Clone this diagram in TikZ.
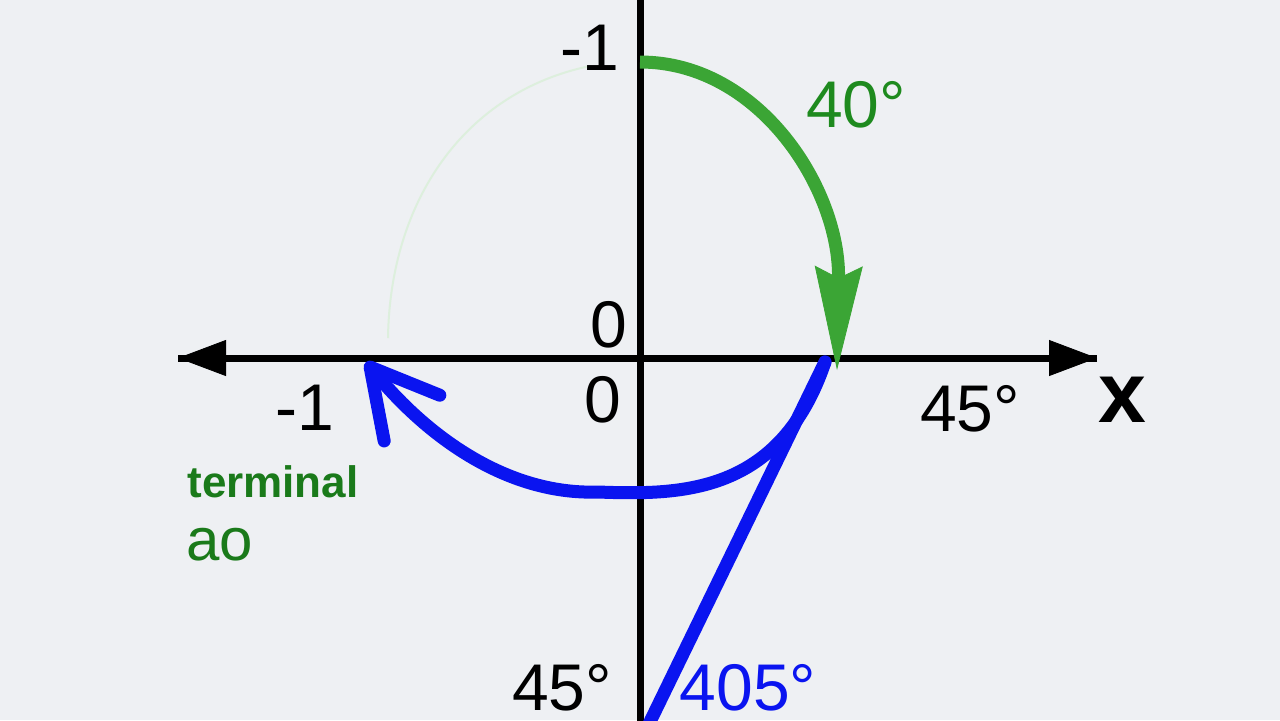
\documentclass[tikz,border=0pt]{standalone}
\usepackage{fontspec}
\setmainfont{Liberation Sans}
\usetikzlibrary{arrows.meta}
\definecolor{bg}{HTML}{EEF0F3}
\definecolor{arcgreen}{HTML}{3BA535}
\definecolor{txtgreen}{HTML}{1E8A1E}
\definecolor{termgreen}{HTML}{1A7A1A}
\definecolor{faint}{HTML}{DDEFDD}
\definecolor{myblue}{HTML}{0A14F0}
\begin{document}
\begin{tikzpicture}[x=0.5pt,y=-0.5pt,
  axisline/.style={line width=3.5pt,black},
  axishead/.style={-{Triangle[length=24pt,width=18pt,line width=0.4pt]}},
  greenarc/.style={line width=6.5pt,arcgreen,-{Stealth[length=52pt,width=24pt,inset=6pt,line width=0.4pt]}},
  bluearc/.style={line width=6.5pt,myblue,line cap=round},
  lbl/.style={inner sep=0pt,anchor=base,font=\fontsize{33pt}{36pt}\selectfont},
]
\fill[bg] (0,0) rectangle (1280,720);
\clip (0,0) rectangle (1280,720);
% coordinates
\coordinate (L) at (178,358);
\coordinate (R) at (1097,358);
\coordinate (T) at (640,-5);
\coordinate (B) at (640,725);
\coordinate (G0) at (640,62);
\coordinate (G1) at (837,370);
\coordinate (P) at (825,362);
\coordinate (Q) at (598,492);
\coordinate (A) at (366,362);
\coordinate (Bot) at (646,730);
\coordinate (F0) at (590,66);
\coordinate (F1) at (388,338);
% faint arc
\draw[faint,line width=1pt] (F0) .. controls (465,92) and (390,200) .. (F1);
% axes
\draw[axisline] (T) -- (B);
\draw[axisline,axishead] (R) -- (L);
\draw[axisline,axishead] (L) -- (R);
% blue line
\draw[bluearc] (P) -- (Bot);
% blue arc
\draw[bluearc,-{Straight Barb[length=33pt,width=36pt,line width=6.5pt,round]}]
  (P) .. controls (780,495) and (680,495) .. (Q)
      .. controls (510,495) and (430,440) .. (A);
% green arc
\draw[greenarc] (G0) .. controls (760,62) and (840,190) .. (G1);
% labels
\node[lbl] (m1t) at (590,70) {-1};
\node[lbl,txtgreen] (g40) at (856,127) {40°};
\node[lbl] (z1) at (609,347) {0};
\node[lbl] (z2) at (603,422) {0};
\node[lbl] (m1l) at (305,430) {-1};
\node[lbl] (r45) at (970,431) {45°};
\node[lbl,font=\fontsize{43pt}{46pt}\selectfont\bfseries] (xl) at (1122,422) {x};
\node[inner sep=0pt,anchor=base west,termgreen,font=\fontsize{22pt}{26pt}\selectfont\bfseries] (term) at (187,497) {terminal};
\node[inner sep=0pt,anchor=base west,termgreen,font=\fontsize{30pt}{34pt}\selectfont] (ao) at (186,560) {ao};
\node[lbl] (b45) at (562,710) {45°};
\node[lbl,myblue] (b405) at (748,710) {405°};
\end{tikzpicture}
\end{document}
